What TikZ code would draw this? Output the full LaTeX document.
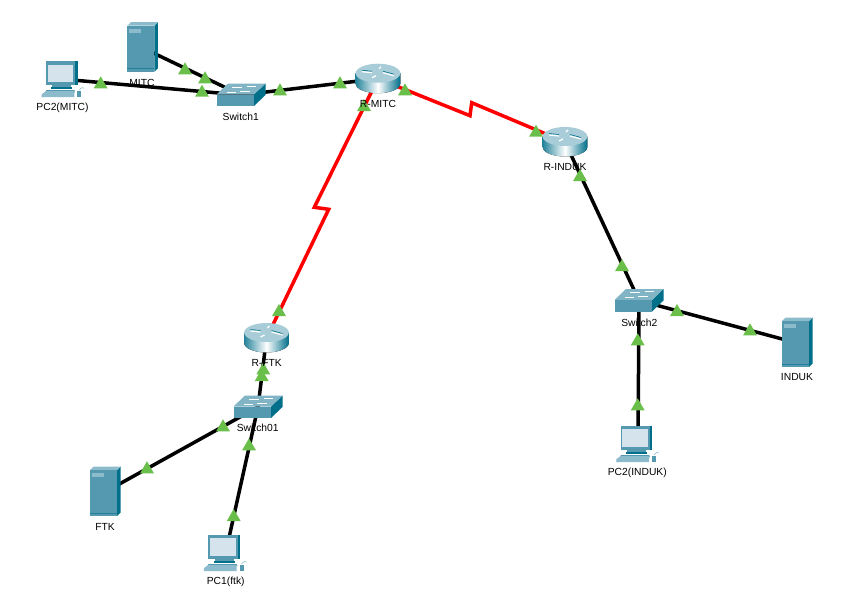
\documentclass[tikz,border=0pt]{standalone}
\usepackage{xcolor}
\usepackage{fontspec}
\setmainfont{Liberation Sans}
\usepackage{tikz}
\usetikzlibrary{positioning,shapes.geometric}

\definecolor{devfront}{HTML}{5499B0}
\definecolor{devside}{HTML}{006F8A}
\definecolor{devtop}{HTML}{8CBCCB}
\definecolor{devpale}{HTML}{D5E4EC}
\definecolor{portgreen}{HTML}{6ABF4B}

\tikzset{
  dev node/.style={inner sep=0pt,minimum size=1pt},
  dev label/.style={inner sep=0pt,font=\fontsize{10.3}{12}\selectfont},
  port/.style={regular polygon,regular polygon sides=3,fill=portgreen,
    inner sep=0pt,minimum size=16pt,yshift=-2pt},
  wire/.style={black,line width=3.5pt},
  serial/.style={red,line width=3.5pt,line join=miter},
  server/.pic={
    \fill[devside] (12,-22) -- (15.5,-25.5) -- (15.5,20.5) -- (12,24) -- cycle;
    \fill[devtop] (-15,-22) -- (-11.5,-25.5) -- (15.5,-25.5) -- (12,-22) -- cycle;
    \fill[devfront] (-15,-22) rectangle (12,24);
    \fill[devtop] (-13,-19) rectangle (-1,-15);
    \draw[devside!60!devfront,line width=.6pt] (-15,21) -- (12,21);
  },
  switchbox/.pic={
    \fill[devside] (13,-.5) -- (24.5,-11.5) -- (24.5,0) -- (13,11) -- cycle;
    \fill[devtop!80!devfront] (-24.5,-.5) -- (-13,-11.5) -- (24.5,-11.5) -- (13,-.5) -- cycle;
    \fill[devfront] (-24.5,-.5) rectangle (13,11);
    \draw[white,line width=.7pt] (-9,-8) -- (1,-8) (6,-9) -- (15,-9)
      (-14,-3) -- (-5,-3) (-1,-4) -- (9,-4);
  },
  router/.pic={
    \fill[left color=devside!85!white,right color=devside,middle color=white]
      (-22.3,-5.5) -- (-22.3,5) arc[start angle=180,end angle=0,x radius=22.3,y radius=9.5]
      -- (22.3,-5.5) -- cycle;
    \fill[devtop!75!white] (0,-5.5) ellipse[x radius=22.3,y radius=9.5];
    \draw[white,line width=1.2pt] (-16,-7) -- (-6,-6) (16,-3) -- (5,-6)
      (-6,-1) -- (-2,-3) (3,-12) -- (1,-10);
    \draw[devside,line width=.6pt] (-16,-8.5) -- (-6,-7.5) (16,-4.5) -- (5,-7.5);
  },
  computer/.pic={
    \fill[devside] (-17.3,-18) -- (14.4,-18) -- (14.4,6) -- (-17.3,6) -- cycle;
    \fill[devfront] (-17.3,-18) -- (12,-18) -- (12,6) -- (-17.3,6) -- cycle;
    \fill[devpale] (-15.6,-14.7) rectangle (10,2.7);
    \fill[devfront] (-11,6) rectangle (8,8);
    \fill[devside] (-12,8) rectangle (9,10);
    \fill[devfront] (-17,11) -- (11,11) -- (12,13) -- (-21.7,18) -- cycle;
    \fill[devtop] (-21.7,15) -- (-17,12) -- (11,12) -- (11,18) -- (-21.7,18) -- cycle;
    \fill[devfront] (14,12) rectangle (18,18);
    \draw[devtop,line width=.6pt] (16,11) .. controls (18,8) and (20,8) .. (21,9);
  }
}

\begin{document}
\begin{tikzpicture}[x=1pt,y=-1pt]
  \useasboundingbox (0,0) rectangle (850,608);

  \node[dev node] (MITC) at (142.3,47.7) {};
  \node[dev node] (PCMITC) at (63.3,79.2) {};
  \node[dev node] (Switch1) at (241,95) {};
  \node[dev node] (RMITC) at (378,78.7) {};
  \node[dev node] (RINDUK) at (565,142) {};
  \node[dev node] (Switch2) at (639,300.5) {};
  \node[dev node] (INDUK) at (797,343) {};
  \node[dev node] (PCINDUK) at (638,444) {};
  \node[dev node] (RFTK) at (266.5,338) {};
  \node[dev node] (Switch01) at (258,407) {};
  \node[dev node] (FTK) at (105,492) {};
  \node[dev node] (PCFTK) at (225.6,553) {};

  \coordinate (kink a) at (470,115.7);
  \coordinate (kink b) at (471.7,102.7);
  \coordinate (kink c) at (314.3,207.3);
  \coordinate (kink d) at (328.7,209.3);

  % links
  \draw[wire] (PCMITC.center) -- (Switch1.center);
  \draw[wire] (MITC.center) -- (Switch1.center);
  \draw[wire] (Switch1.center) -- (RMITC.center);
  \draw[wire] (RINDUK.center) -- (Switch2.center);
  \draw[wire] (Switch2.center) -- (INDUK.center);
  \draw[wire] (Switch2.center) -- (PCINDUK.center);
  \draw[wire] (RFTK.center) -- (Switch01.center);
  \draw[wire] (Switch01.center) -- (FTK.center);
  \draw[wire] (Switch01.center) -- (PCFTK.center);
  \draw[serial] (RMITC.center) -- (kink a) -- (kink b) -- (RINDUK.center);
  \draw[serial] (RMITC.center) -- (kink c) -- (kink d) -- (RFTK.center);

  % devices
  \pic at (MITC) {server};
  \pic at (INDUK) {server};
  \pic at (FTK) {server};
  \pic at (Switch1) {switchbox};
  \pic at (Switch2) {switchbox};
  \pic at (Switch01) {switchbox};
  \pic at (RMITC) {router};
  \pic at (RINDUK) {router};
  \pic at (RFTK) {router};
  \pic at (PCMITC) {computer};
  \pic at (PCINDUK) {computer};
  \pic at (PCFTK) {computer};

  % link lights
  \foreach \px/\py in {100.7/82.3,202/90.7,185/68.3,205/77.3,280/89.3,340/82.3,
      405/89.3,536/130.7,364/105,279/310,580/175,622/265,677/310,750/329.3,
      637.7/339.3,637.7/404.3,263.3/368.3,261.7/375,223/425.3,147/467.3,
      249/444.3,233.7/515}
    \node[port] at (\px,\py) {};

  \node[dev label] (lMITC) at (142,83.3) {MITC};
  \node[dev label] (lPCMITC) at (62.5,107.7) {PC2(MITC)};
  \node[dev label] (lSwitch1) at (240.7,116.7) {Switch1};
  \node[dev label] (lRMITC) at (378,104.3) {R-MITC};
  \node[dev label] (lRINDUK) at (565,167.3) {R-INDUK};
  \node[dev label] (lSwitch2) at (639.3,322.7) {Switch2};
  \node[dev label] (lINDUK) at (797,377.3) {INDUK};
  \node[dev label] (lPCINDUK) at (637.3,472.7) {PC2(INDUK)};
  \node[dev label] (lRFTK) at (266.7,363.3) {R-FTK};
  \node[dev label] (lSwitch01) at (257.7,428.3) {Switch01};
  \node[dev label] (lFTK) at (105,526.7) {FTK};
  \node[dev label] (lPCFTK) at (225.7,581.7) {PC1(ftk)};
\end{tikzpicture}
\end{document}
